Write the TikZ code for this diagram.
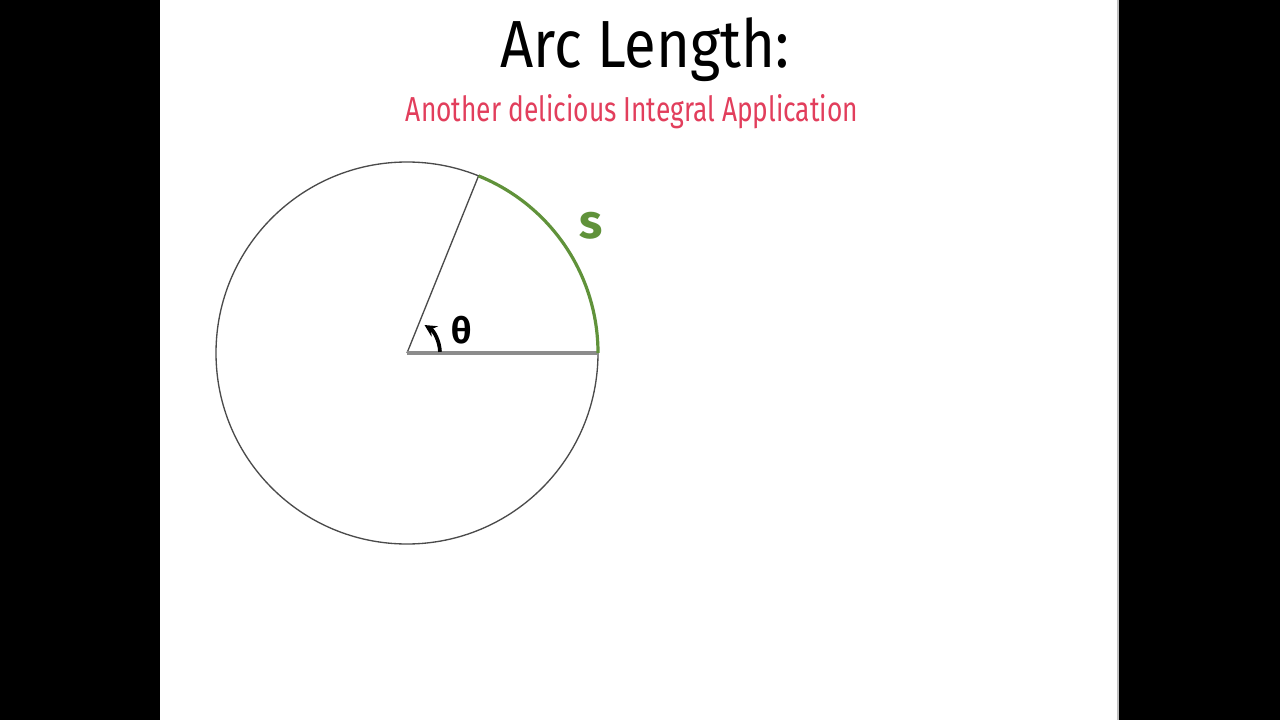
\documentclass[tikz,border=0pt]{standalone}
\usepackage{fontspec}
\setmainfont{Fira Sans}
\usetikzlibrary{arrows.meta,calc}
\tikzset{every picture/.style={line width=0.75pt}}
\definecolor{subred}{RGB}{226,62,92}
\definecolor{arcgreen}{RGB}{96,146,58}
\definecolor{rimgray}{RGB}{75,75,75}
\tikzset{
  rim/.style={draw=rimgray, line width=1pt},
  radius line/.style={draw=rimgray, line width=1pt},
  base line/.style={draw={rgb,255:red,140;green,140;blue,140}, line width=2.4pt},
  arc s/.style={draw=arcgreen, line width=2.4pt},
  angle mark/.style={draw=black, line width=2.8pt, -{Stealth[length=9pt,width=9pt]}}
}

\begin{document}
\begin{tikzpicture}[x=0.75pt,y=0.75pt,yscale=-1,xscale=1]
\useasboundingbox (0,0) rectangle (1280,720);

%Background: screen and page
\fill[black] (0,0) rectangle (1280,720);
\fill[white] (160,0) rectangle (1117,720);
\draw[draw={rgb,255:red,190;green,190;blue,190}, line width=2pt] (1118,0) -- (1118,720);

%Circle and radii
\coordinate (O) at (407,353);
\coordinate (Q) at ($(O)+(191,0)$);
\coordinate (P) at ($(O)+(-68:191)$);
\draw[rim] (O) circle [radius=191];
\draw[radius line] (O) -- (P);
\draw[base line] (O) -- (Q);
%Arc s
\draw[arc s] (Q) arc [start angle=0, end angle=-68, radius=191];
%Angle theta
\draw[angle mark] ($(O)+(-2:33)$) arc [start angle=-2, end angle=-58, radius=33];

% Text Node
\node[inner sep=0pt, xscale=0.87] (title) at (645,50) {\fontsize{50}{56}\selectfont Arc Length:};
% Text Node
\node[inner sep=0pt, text=subred, xscale=0.76] (subtitle) at (632,112) {\fontsize{26}{30}\selectfont Another delicious Integral Application};
% Text Node
\node[inner sep=0pt, text=arcgreen] (s) at (591,226) {\fontsize{36}{40}\selectfont\bfseries s};
% Text Node
\node[inner sep=0pt] (theta) at (462,330) {\fontsize{27}{30}\selectfont\bfseries θ};
\end{tikzpicture}
\end{document}
